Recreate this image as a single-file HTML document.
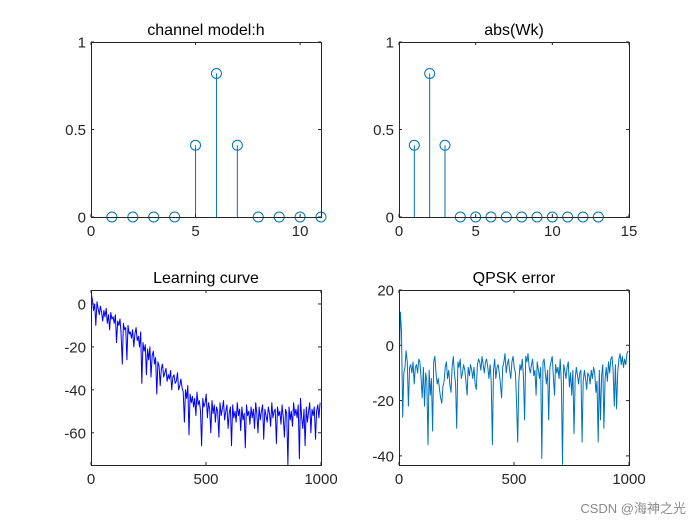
<!DOCTYPE html>
<html><head><meta charset="utf-8"><style>
body{margin:0;background:#fff}
svg{display:block;font-family:"Liberation Sans","Noto Sans CJK SC",sans-serif}
</style></head><body>
<svg id="fig" width="700" height="525"></svg>
<script>
const hX=[1,2,3,4,5,6,7,8,9,10,11];
const hY=[0,0,0,0,0.41,0.82,0.41,0,0,0,0];
const wX=[1,2,3,4,5,6,7,8,9,10,11,12,13];
const wY=[0.41,0.82,0.41,0,0,0,0,0,0,0,0,0,0];
const lcY=[5,2,-3,0,-10,1,-2,-5,-1,-4,-8,-3,-6,-2,-9,-5,-12,-4,-7,-6,
-9,-5,-18,-8,-10,-7,-14,-28,-9,-12,-11,-26,-10,-14,-13,-16,-12,-20,-14,-11,
-17,-15,-20,-13,-37,-18,-22,-19,-33,-21,-26,-20,-34,-24,-22,-28,-25,-42,-27,-29,
-38,-30,-28,-34,-32,-30,-36,-33,-35,-31,-40,-34,-33,-37,-36,-32,-40,-38,-35,-39,
-41,-55,-40,-44,-38,-61,-42,-46,-43,-48,-44,-52,-41,-47,-45,-50,-66,-44,-48,-46,
-42,-53,-46,-49,-60,-45,-51,-47,-55,-48,-50,-62,-46,-52,-49,-45,-54,-50,-47,-58,
-51,-48,-66,-47,-53,-50,-55,-46,-52,-49,-59,-48,-54,-51,-67,-47,-52,-50,-56,-48,
-53,-49,-58,-46,-51,-60,-48,-54,-50,-47,-63,-49,-52,-55,-48,-51,-57,-46,-53,-50,
-49,-65,-48,-52,-50,-56,-47,-53,-62,-49,-51,-75,-48,-54,-50,-57,-46,-52,-49,-53,
-47,-72,-44,-53,-58,-49,-66,-48,-55,-50,-46,-60,-49,-52,-48,-63,-50,-47,-53,-46];
const qY=[-8,12,5,-26,-10,-8,-2,-6,-22,-8,-7,-10,-6,-14,-8,-7,-10,-5,-6,-12,
-19,-8,-22,-10,-13,-36,-9,-18,-12,-31,-6,-4,-10,-14,-12,-16,-19,-21,-15,-13,
-8,-6,-12,-9,-14,-17,-8,-4,-10,-14,-30,-6,-8,-5,-12,-10,-7,-9,-13,-18,
-8,-11,-7,-9,-12,-8,-14,-16,-7,-5,-6,-9,-4,-7,-10,-6,-5,-8,-12,-7,
-13,-36,-9,-5,-12,-8,-7,-10,-14,-19,-8,-6,-3,-10,-7,-5,-9,-12,-6,-4,
-8,-10,-20,-35,-13,-7,-9,-5,-11,-27,-4,-6,-3,-8,-10,-7,-5,-11,-9,-18,
-6,-9,-12,-8,-41,-6,-5,-10,-14,-9,-27,-8,-6,-4,-11,-18,-7,-10,-8,-12,
-5,-14,-43,-7,-9,-12,-8,-6,-15,-10,-18,-9,-32,-12,-8,-11,-14,-10,-9,-35,
-13,-9,-12,-16,-10,-11,-14,-9,-12,-8,-10,-17,-13,-35,-9,-27,-11,-7,-30,-12,
-8,-13,-6,-10,-5,-4,-9,-22,-7,-23,-10,-5,-3,-7,-4,-8,-5,-7,-3,-2];
const tlXT=[0,5,10], tlYT=[0,0.5,1];
const trXT=[0,5,10,15], trYT=[0,0.5,1];
const blXT=[0,500,1000], blYT=[0,-20,-40,-60];
const brXT=[0,500,1000], brYT=[20,0,-20,-40];

const NS="http://www.w3.org/2000/svg", fig=document.getElementById('fig');
function mk(t,a,p){const e=document.createElementNS(NS,t);for(const k in a)e.setAttribute(k,a[k]);(p||fig).appendChild(e);return e;}
function axes(name,L,T,W,H,x0,x1,y0,y1,xt,yt,title){
  const g=mk('g',{});
  
  
  const sx=v=>L+(v-x0)/(x1-x0)*W, sy=v=>T+H-(v-y0)/(y1-y0)*H;
  mk('rect',{x:L,y:T,width:W,height:H,fill:'#fff',stroke:'none'},g);
  const plot=mk('g',{},g);
  const ax=mk('g',{},g);
  mk('rect',{x:L+.5,y:T+.5,width:W,height:H,fill:'none',stroke:'#262626','stroke-width':1},ax);
  xt.forEach(v=>{const x=sx(v);
    mk('line',{x1:x,x2:x,y1:T+H,y2:T+H-3,stroke:'#262626'},ax);
    mk('line',{x1:x,x2:x,y1:T,y2:T+3,stroke:'#262626'},ax);
    const t=mk('text',{x:x,y:T+H+19,'text-anchor':'middle','font-size':15,fill:'#262626'},ax);t.textContent=v;
    
    });
  yt.forEach(v=>{const y=sy(v);
    mk('line',{x1:L,x2:L+3,y1:y,y2:y,stroke:'#262626'},ax);
    mk('line',{x1:L+W,x2:L+W-3,y1:y,y2:y,stroke:'#262626'},ax);
    const t=mk('text',{x:L-5,y:y+5.5,'text-anchor':'end','font-size':15,fill:'#262626'},ax);t.textContent=v;
    
    });
  const tt=mk('text',{x:L+W/2,y:T-7,'text-anchor':'middle','font-size':16,fill:'#000'},g);tt.textContent=title;
  
  
  return {sx,sy,plot};
}
function stem(a,xs,ys){xs.forEach((x,i)=>{const px=a.sx(x),py=a.sy(ys[i]);
  const ln=mk('line',{x1:px,x2:px,y1:a.sy(0),y2:py,stroke:'#0072BD','stroke-width':1},a.plot);
  
  
  const c=mk('circle',{cx:px,cy:py,r:5,fill:'none',stroke:'#0072BD','stroke-width':1},a.plot);
  
  });}
function line(a,ys,n,col,name){const step=n/ys.length;
  const pts=ys.map((v,i)=>a.sx(1+i*step).toFixed(1)+','+a.sy(v).toFixed(1)).join(' ');
  const p=mk('polyline',{points:pts,fill:'none',stroke:col,'stroke-width':1,'stroke-linejoin':'round'},a.plot);
  
  }
const a1=axes('channel-model-axes',91,42,230,175,0,11,0,1,tlXT,tlYT,'channel model:h');
stem(a1,hX,hY);
const a2=axes('abs-wk-axes',399,42,230,175,0,15,0,1,trXT,trYT,'abs(Wk)');
stem(a2,wX,wY);
const a3=axes('learning-curve-axes',91,290,230,175,0,1000,-75,6.5,blXT,blYT,'Learning curve');
a3.plot.setAttribute('clip-path','url(#lcclip)');
const c3=mk('clipPath',{id:'lcclip'});mk('rect',{x:91,y:290,width:230,height:175},c3);
line(a3,lcY,1000,'#0000FF','learning-curve-line');
const a4=axes('qpsk-error-axes',399,290,230,175,0,1000,-43.3,20,brXT,brYT,'QPSK error');
a4.plot.setAttribute('clip-path','url(#qclip)');
const c4=mk('clipPath',{id:'qclip'});mk('rect',{x:399,y:290,width:230,height:175},c4);
line(a4,qY,1000,'#0072BD','qpsk-error-line');
const wm=mk('text',{x:686,y:513,'text-anchor':'end','font-size':13,fill:'#8a8a8a'});
wm.textContent='CSDN @海神之光';


</script>
</body></html>
